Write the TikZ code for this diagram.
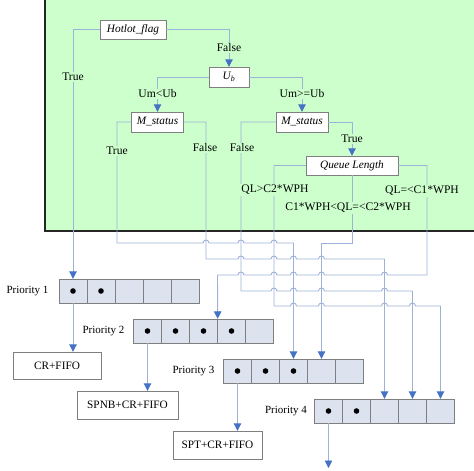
\documentclass[tikz,border=0pt]{standalone}
\usepackage{fontspec}
\setmainfont{Liberation Serif}
\usetikzlibrary{arrows.meta}
\definecolor{bg}{HTML}{CCFFCC}
\definecolor{ln}{HTML}{9CB2D9}
\definecolor{ar}{HTML}{4472C4}
\definecolor{cellf}{HTML}{DDE3EE}
\definecolor{bd}{HTML}{7F7F7F}
\begin{document}
\begin{tikzpicture}[x=1pt,y=1pt,
  conn/.style={draw=ln, line width=0.9pt, -{Triangle[width=7.5pt,length=7.5pt,color=ar]}},
  lbl/.style={fill=bg, inner sep=1pt, font=\fontsize{11.6}{12}\selectfont},
  dbox/.style={draw=bd, fill=white, inner sep=0pt, font=\fontsize{11.3}{12}\selectfont\itshape},
  cellbox/.style={draw=bd, fill=cellf, minimum width=28pt, minimum height=24pt, inner sep=0pt},
  obox/.style={draw=bd, fill=white, inner sep=0pt, minimum height=27pt, font=\fontsize{11.3}{12}\selectfont},
  plabel/.style={inner sep=0pt, font=\fontsize{11}{12}\selectfont},
  dotmark/.style={fill=black}]
\useasboundingbox (0,-471) rectangle (474,0);
\clip (0,-471) rectangle (474,0);
% green region
\fill[bg] (45,-231) rectangle (480,5);
\draw[line width=1.5pt, black!85] (480,-231) -- (45,-231) -- (45,5);
% decision boxes
\node[dbox, minimum width=66pt, minimum height=19pt] (hot) at (133,-29.5) {Hotlot\_flag};
\node[dbox, minimum width=40pt, minimum height=20pt] (ub) at (229,-77) {U\textsubscript{b}};
\node[dbox, minimum width=52pt, minimum height=20pt] (ms1) at (157.5,-122) {M\_status};
\node[dbox, minimum width=52pt, minimum height=20pt] (ms2) at (302,-122) {M\_status};
\node[dbox, minimum width=92pt, minimum height=19pt] (ql) at (352,-165.5) {Queue Length};
% queues
\foreach \i in {1,...,5} {
  \node[cellbox] (p1c\i) at ({59+28*(\i-0.5)},-291) {};
  \node[cellbox] (p2c\i) at ({133.5+28*(\i-0.5)},-331) {};
  \node[cellbox] (p3c\i) at ({223.5+28*(\i-0.5)},-371) {};
  \node[cellbox] (p4c\i) at ({314.5+28*(\i-0.5)},-411) {};
}
\foreach \c in {p1c1,p1c2,p2c1,p2c2,p2c3,p2c4,p3c1,p3c2,p3c3,p4c1,p4c2}
  \fill[dotmark] (\c) circle (2.8pt);
\node[plabel] (pl1) at (27.5,-291) {Priority 1};
\node[plabel] (pl2) at (103.5,-331) {Priority 2};
\node[plabel] (pl3) at (193.5,-371) {Priority 3};
\node[plabel] (pl4) at (286,-411) {Priority 4};
% output boxes
\node[obox, minimum width=88pt] (cr) at (57,-365.5) {CR+FIFO};
\node[obox, minimum width=101pt, minimum height=28pt] (spnb) at (127.5,-405) {SPNB+CR+FIFO};
\node[obox, minimum width=89pt, minimum height=28pt] (spt) at (217.5,-445) {SPT+CR+FIFO};
\coordinate (end4) at (328.5,-468);
% connectors
\draw[conn] (hot.west) -| (p1c1.north);
\draw[conn] (hot.east) -| (ub.north);
\draw[conn] (ub.west) -| (ms1.north);
\draw[conn] (ub.east) -| (ms2.north);
\draw[conn] (ms2.east) -| (ql.north);
\draw[conn] (ms1.west) -| (117,-243) -- (203,-243)
  arc[start angle=180,end angle=0,radius=3pt] -- (238,-243)
  arc[start angle=180,end angle=0,radius=3pt] -- (271,-243)
  arc[start angle=180,end angle=0,radius=3pt] -- (293.5,-243) -- (p3c3.north);
\draw[conn] (ms1.east) -| (206,-259) -- (238,-259)
  arc[start angle=180,end angle=0,radius=3pt] -- (271,-259)
  arc[start angle=180,end angle=0,radius=3pt] -- (290.5,-259)
  arc[start angle=180,end angle=0,radius=3pt] -- (318.5,-259)
  arc[start angle=180,end angle=0,radius=3pt] -- (384.5,-259) -- (p4c3.north);
\draw[conn] (ms2.west) -| (241,-291) -- (271,-291)
  arc[start angle=180,end angle=0,radius=3pt] -- (290.5,-291)
  arc[start angle=180,end angle=0,radius=3pt] -- (318.5,-291)
  arc[start angle=180,end angle=0,radius=3pt] -- (381.5,-291)
  arc[start angle=180,end angle=0,radius=3pt] -- (412.5,-291) -- (p4c4.north);
\draw[conn] (ql.west) -| (274,-306) -- (290.5,-306)
  arc[start angle=180,end angle=0,radius=3pt] -- (318.5,-306)
  arc[start angle=180,end angle=0,radius=3pt] -- (381.5,-306)
  arc[start angle=180,end angle=0,radius=3pt] -- (409.5,-306)
  arc[start angle=180,end angle=0,radius=3pt] -- (440.5,-306) -- (p4c5.north);
\draw[conn] (ql.south) -- (352,-243) -- (321.5,-243) -- (p3c4.north);
\draw[conn] (ql.east) -| (427,-275) -- (387.5,-275)
  arc[start angle=0,end angle=180,radius=3pt] -- (324.5,-275)
  arc[start angle=0,end angle=180,radius=3pt] -- (296.5,-275)
  arc[start angle=0,end angle=180,radius=3pt] -- (277,-275)
  arc[start angle=0,end angle=180,radius=3pt] -- (244,-275)
  arc[start angle=0,end angle=180,radius=3pt] -- (217.5,-275) -- (p2c3.north east);
\draw[conn] (p1c1.south) -- (p1c1.south |- cr.north);
\draw[conn] (p2c1.south) -- (p2c1.south |- spnb.north);
\draw[conn] (p3c1.south) -- (p3c1.south |- spt.north);
\draw[conn] (p4c1.south) -- (end4);
% labels
\node[lbl] (l1) at (73,-77) {True};
\node[lbl] (l2) at (229,-48) {False};
\node[lbl] (l3) at (157.5,-94) {Um<Ub};
\node[lbl] (l4) at (302,-94) {Um>=Ub};
\node[lbl] (l5) at (117,-151) {True};
\node[lbl] (l6) at (205,-148) {False};
\node[lbl] (l7) at (242,-148) {False};
\node[lbl] (l8) at (352,-139) {True};
\node[lbl] (l9) at (275,-190) {QL>C2*WPH};
\node[lbl] (l10) at (348,-208) {C1*WPH<QL=<C2*WPH};
\node[lbl] (l11) at (422,-191) {QL=<C1*WPH};
\end{tikzpicture}
\end{document}
